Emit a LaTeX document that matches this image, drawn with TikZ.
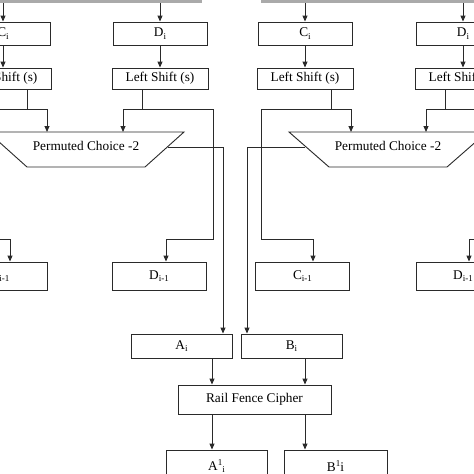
\documentclass[tikz,border=0pt]{standalone}
\usepackage{fontspec}
\setmainfont{Liberation Serif}
\usetikzlibrary{arrows.meta,calc}
\definecolor{lc}{HTML}{2A2A2A}
\definecolor{barc}{HTML}{AAAAAA}
\newcommand\mysub[1]{\raisebox{-2.5pt}{\fontsize{9}{9}\selectfont #1}}
\newcommand\mysup[1]{\raisebox{5pt}{\fontsize{9}{9}\selectfont #1}}
\begin{document}
\begin{tikzpicture}[x=1pt,y=-1pt,
  ln/.style={draw=lc, line width=0.9pt},
  arr/.style={ln, -{Triangle[length=6pt,width=5pt]}},
  box/.style={draw=lc, line width=0.9pt, rectangle, inner sep=0pt,
    minimum height=23pt, minimum width=94pt, font=\fontsize{13.3}{15}\selectfont},
  sbox/.style={box, minimum height=21pt, minimum width=96pt},
  txt/.style={inner sep=0pt, font=\fontsize{13.3}{15}\selectfont},
  bar/.style={fill=barc, inner sep=0pt, minimum height=3pt}]
\useasboundingbox (0,0) rectangle (474,474);
\clip (0,0) rectangle (474,474);
\fill[white] (0,0) rectangle (474,474);

% top bars
\node[bar, minimum width=202pt] (barL) at (101,1.5) {};
\node[bar, minimum width=219pt] (barR) at (370.5,1.5) {};

% first row
\node[box] (CiL) at (3,33.5) {C\mysub{i}};
\node[box] (DiL) at (160,33.5) {D\mysub{i}};
\node[box] (CiR) at (305,33.5) {C\mysub{i}};
\node[box] (DiR) at (463,33.5) {D\mysub{i}};

% shifts
\node[sbox] (LSCL) at (3,78.5) {Left Shift (s)};
\node[sbox] (LSDL) at (160,78.5) {Left Shift (s)};
\node[sbox] (LSCR) at (305,78.5) {Left Shift (s)};
\node[sbox] (LSDR) at (463,78.5) {Left Shift (s)};

% permuted choice trapezia
\draw[ln] (-12,132) -- (184,132) -- (145,167) -- (27,167) -- cycle;
\draw[ln] (289,132) -- (487,132) -- (447,167) -- (329,167) -- cycle;
\node[txt] (PCL) at (86,146) {Permuted Choice -2};
\node[txt] (PCR) at (388,146) {Permuted Choice -2};

% i-1 boxes
\node[box, minimum height=28pt] (CmL) at (0,276) {C\mysub{i-1}};
\node[box, minimum height=28pt] (DmL) at (159,276) {D\mysub{i-1}};
\node[box, minimum height=28pt] (CmR) at (302.5,276) {C\mysub{i-1}};
\node[box, minimum height=28pt] (DmR) at (463,276) {D\mysub{i-1}};

% bottom part
\node[box, minimum width=101pt, minimum height=24pt] (Ai) at (181.5,346) {A\mysub{i}};
\node[box, minimum width=101pt, minimum height=24pt] (Bi) at (291.5,346) {B\mysub{i}};
\node[box, minimum width=153pt, minimum height=29pt] (RF) at (254.5,399.5) {Rail Fence Cipher};
\node[box, minimum width=101pt, minimum height=32pt] (A1) at (216.5,466) {A\mysup{1}\mysub{i}};
\node[box, minimum width=103pt, minimum height=32pt] (B1) at (335.5,466) {B\mysup{1}i};

% arrows from top bars
\draw[arr] (CiL.north |- barL.south) -- (CiL.north);
\draw[arr] (DiL.north |- barL.south) -- (DiL.north);
\draw[arr] (CiR.north |- barR.south) -- (CiR.north);
\draw[arr] (DiR.north |- barR.south) -- (DiR.north);

% box to shift
\draw[arr] (CiL.south) -- (LSCL.north);
\draw[arr] (DiL.south) -- (LSDL.north);
\draw[arr] (CiR.south) -- (LSCR.north);
\draw[arr] (DiR.south) -- (LSDR.north);

% junction coordinates
\coordinate (pcTop) at (0,132);
% left C
\coordinate (jCL) at (27,109);
\coordinate (pCL) at (47,109);
\coordinate (offL) at (-30,109);
\coordinate (offL2) at (-30,239);
\coordinate (aCmL) at (10,239);
\draw[ln] (LSCL.south -| jCL) -- (jCL);
\draw[arr] (offL) -- (pCL) -- (pCL |- pcTop);
\draw[arr] (offL) -- (offL2) -- (aCmL) -- (aCmL |- CmL.north);
% left D
\coordinate (jDL) at (142,109);
\coordinate (pDL) at (123,109);
\coordinate (tDL) at (213,109);
\coordinate (kDL) at (213,239);
\coordinate (aDmL) at (166,239);
\draw[ln] (LSDL.south -| jDL) -- (jDL);
\draw[arr] (tDL) -- (pDL) -- (pDL |- pcTop);
\draw[arr] (tDL) -- (kDL) -- (aDmL) -- (aDmL |- DmL.north);
% right C
\coordinate (jCR) at (331,109);
\coordinate (pCR) at (351,109);
\coordinate (tCR) at (261,109);
\coordinate (kCR) at (261,239);
\coordinate (aCmR) at (313,239);
\draw[ln] (LSCR.south -| jCR) -- (jCR);
\draw[arr] (tCR) -- (pCR) -- (pCR |- pcTop);
\draw[arr] (tCR) -- (kCR) -- (aCmR) -- (aCmR |- CmR.north);
% right D
\coordinate (jDR) at (445,109);
\coordinate (pDR) at (426,109);
\coordinate (offR) at (510,109);
\coordinate (offR2) at (510,239);
\coordinate (aDmR) at (469,239);
\draw[ln] (LSDR.south -| jDR) -- (jDR);
\draw[arr] (offR) -- (pDR) -- (pDR |- pcTop);
\draw[arr] (offR) -- (offR2) -- (aDmR) -- (aDmR |- DmR.north);

% PC outputs
\coordinate (oL) at (167.5,147);
\coordinate (oL2) at (223,147);
\draw[arr] (oL) -- (oL2) -- (oL2 |- Ai.north);
\coordinate (oR) at (305,147);
\coordinate (oR2) at (247,147);
\draw[arr] (oR) -- (oR2) -- (oR2 |- Bi.north);

% bottom arrows
\coordinate (xA) at (212,0);
\coordinate (xB) at (305,0);
\draw[arr] (Ai.south -| xA) -- (RF.north -| xA);
\draw[arr] (Bi.south -| xB) -- (RF.north -| xB);
\draw[arr] (RF.south -| xA) -- (A1.north -| xA);
\draw[arr] (RF.south -| xB) -- (B1.north -| xB);
\end{tikzpicture}
\end{document}
